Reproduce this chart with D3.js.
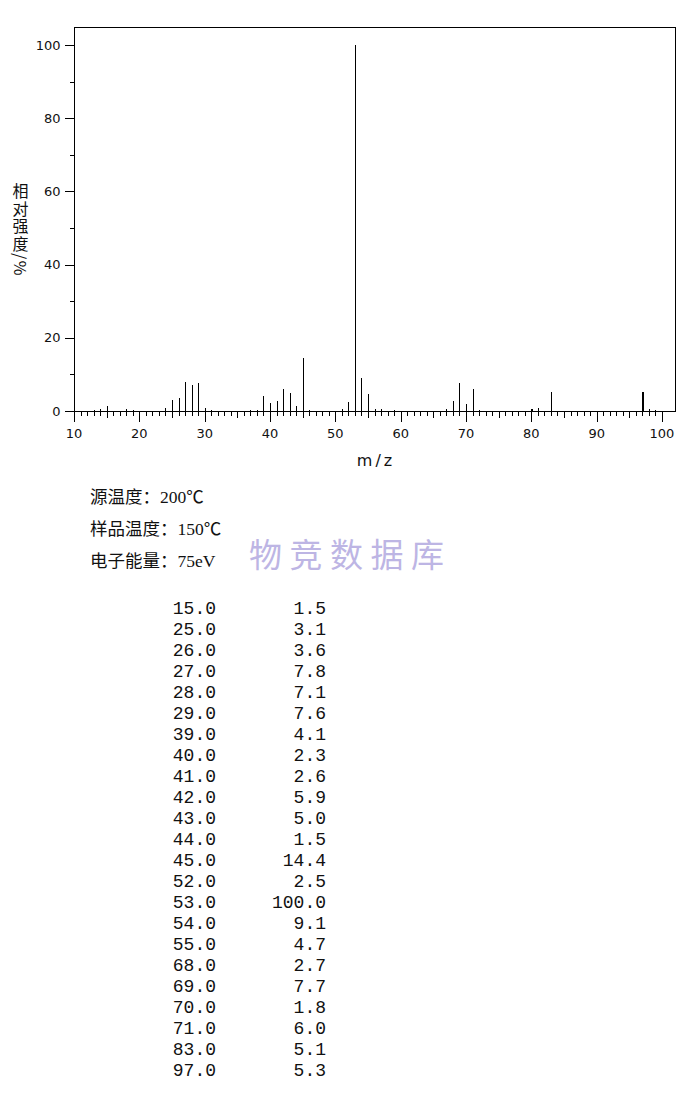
<!DOCTYPE html>
<html><head><meta charset="utf-8">
<script src="https://cdn.jsdelivr.net/npm/d3@7"></script>
<style>
body{margin:0;background:#fff;}
svg{display:block;}
</style></head>
<body>
<svg id="c" width="696" height="1106"></svg>
<script>
// Listed peaks (m/z, relative intensity %)
const peakMz  = [15,25,26,27,28,29,39,40,41,42,43,44,45,52,53,54,55,68,69,70,71,83,97];
const peakInt = [1.5,3.1,3.6,7.8,7.1,7.6,4.1,2.3,2.6,5.9,5.0,1.5,14.4,2.5,100.0,9.1,4.7,2.7,7.7,1.8,6.0,5.1,5.3];
// Small unlisted peaks visible in the plot
const minorMz  = [13,14,18,19,24,30,31,37,38,46,51,56,57,59,67,72,80,81,98,99];
const minorInt = [0.3,0.6,0.5,0.3,0.8,0.7,0.4,0.3,0.3,0.4,0.5,0.6,0.6,0.3,0.6,0.3,0.6,0.8,0.5,0.4];
const yTicks = [0,20,40,60,80,100];
const xTicks = [10,20,30,40,50,60,70,80,90,100];
const yLabel = "相对强度/%";
const conditions = ["源温度：200℃","样品温度：150℃","电子能量：75eV"];
const watermark = "物竞数据库";

const svg = d3.select("#c");
const x = d3.scaleLinear().domain([10,100]).range([74,662]);
const y = d3.scaleLinear().domain([0,100]).range([411,45]);
const r = v => Math.round(v)+0.5;
const ink = "#000";

// frame
const xR = r(x(102)), yT = r(y(104.9)), y0 = r(y(0)), xL = r(x(10));
svg.append("path").attr("fill","none").attr("stroke",ink).attr("stroke-width",1)
  .attr("shape-rendering","crispEdges")
  .attr("d",`M${xL},${y0}V${yT}H${xR}V${y0}`);
// x axis line
svg.append("line").attr("x1",xL-10).attr("x2",xR).attr("y1",y0).attr("y2",y0)
  .attr("stroke",ink).attr("shape-rendering","crispEdges");

// x ticks every unit
const g = svg.append("g").attr("shape-rendering","crispEdges").attr("stroke",ink);
d3.range(10,101).forEach(v=>{
  const len = v%10===0 ? 10 : (v%5===0 ? 6 : 4);
  g.append("line").attr("x1",r(x(v))).attr("x2",r(x(v))).attr("y1",y0).attr("y2",y0+len);
});
// y ticks
d3.range(0,101,10).forEach(v=>{
  const len = v%20===0 ? 10 : 5;
  g.append("line").attr("x1",xL-len).attr("x2",xL).attr("y1",r(y(v))).attr("y2",r(y(v)));
});

const tickFont = "DejaVu Sans, Verdana, sans-serif";
svg.append("g").selectAll("text").data(yTicks).join("text")
  .attr("x",xL-14).attr("y",d=>y(d)+4.5).attr("text-anchor","end")
  .attr("font-family",tickFont).attr("font-size",13).attr("fill","#111").text(d=>d);
svg.append("g").selectAll("text").data(xTicks).join("text")
  .attr("x",d=>x(d)).attr("y",438).attr("text-anchor","middle")
  .attr("font-family",tickFont).attr("font-size",13).attr("fill","#111").text(d=>d);

svg.append("text").attr("x",376).attr("y",466).attr("text-anchor","middle")
  .attr("font-family",tickFont).attr("font-size",16).attr("letter-spacing",3)
  .attr("fill","#111").text("m/z");

// y label (vertical)
const cjk = "'Noto Sans CJK SC', sans-serif";
svg.append("text").attr("x",20.5).attr("y",183)
  .style("writing-mode","vertical-rl").style("text-orientation","mixed")
  .attr("font-family",cjk).attr("font-size",16).attr("letter-spacing",1.5)
  .attr("fill","#111").text(yLabel);

// peaks
const allPeaks = peakMz.map((m,i)=>({m, v:peakInt[i]}))
  .concat(minorMz.map((m,i)=>({m, v:minorInt[i]})));
svg.append("g").selectAll("line").data(allPeaks).join("line")
  .attr("x1",d=>r(x(d.m))).attr("x2",d=>r(x(d.m)))
  .attr("y1",y0).attr("y2",d=>Math.round(y(d.v)))
  .attr("stroke",ink).attr("stroke-width",d=>(d.m===97||d.m===80)?2:1)
  .attr("shape-rendering","crispEdges");

// conditions
const condFont = "'Liberation Serif', 'Noto Sans CJK SC', serif";
conditions.forEach((t,i)=>{
  svg.append("text").attr("x",90).attr("y",503+i*32)
    .attr("font-family",condFont).attr("font-size",17.5).attr("fill","#111").text(t);
});
// watermark
svg.append("text").attr("x",249).attr("y",567)
  .attr("font-family",cjk).attr("font-size",33).attr("letter-spacing",7.5)
  .attr("fill","#bdb5e4").text(watermark);

// table
const mono = "'Liberation Mono', 'Courier New', monospace";
const tbl = svg.append("g").attr("font-family",mono).attr("font-size",18).attr("fill","#111");
peakMz.forEach((m,i)=>{
  tbl.append("text").attr("x",216).attr("y",614+i*21).attr("text-anchor","end").text(m.toFixed(1));
  tbl.append("text").attr("x",326).attr("y",614+i*21).attr("text-anchor","end").text(peakInt[i].toFixed(1));
});
</script>
</body></html>
